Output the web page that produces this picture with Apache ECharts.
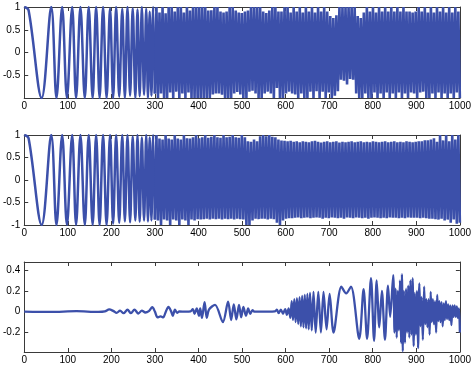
<!DOCTYPE html>
<html><head><meta charset="utf-8">
<script src="https://cdn.jsdelivr.net/npm/echarts@6/dist/echarts.min.js"></script>
<style>html,body{margin:0;padding:0;background:#fff;}#c{width:474px;height:366px;}</style>
</head><body><div id="c"></div>
<script>
// ---- data ----
// low-frequency part (extrema positions) shared by panels 1 and 2
const lowX = [0, 10, 40, 62, 74, 87, 98, 110, 119, 129, 139, 148, 157, 165, 173, 181, 189, 197, 204, 211, 218, 225, 231, 237, 243, 249, 255, 260, 265, 270, 275, 280, 284, 288, 292, 296, 300];
const lowY1 = [1, 0.93, -1, 1, -1, 1, -1, 1, -1, 1, -1, 1, -1, 1, -1, 1, -1, 0.97, -1, 1, -0.97, 0.96, -1, 1, -0.95, 0.97, -1, 0.95, -0.96, 1, -0.93, 0.96, -1, 0.9, -0.95, 1, -0.9];
const lowY2 = [1, 0.93, -1, 1, -1, 1, -1, 1, -1, 1, -1, 1, -1, 1, -1, 1, -1, 1, -0.97, 1, -0.95, 1, -0.92, 1, -0.94, 0.97, -0.9, 1, -0.93, 0.95, -0.9, 1, -0.92, 0.95, -0.9, 1, -0.88];
// dense part: one extremum every 3.5 samples from 303.5 to 1000
const denseStart = 303.5;
const denseStep = 3.5;
const denseY1 = [
 1, -1, 0.88, -0.9, 1, -1, 0.86, -1, 1, -0.88,
 1, -1, 0.9, -0.86, 1, -1, 1, -0.9, 0.88, -1,
 1, -0.88, 0.92, -1, 1, -1, 1, -1, 1, -1,
 1, -1, 1, -1, 0.92, -1, 0.93, -0.92, 1, -0.9,
 1, -0.9, 0.9, -0.93, 0.88, -1, 0.9, -1, 1, -1,
 1, -0.9, 0.92, -0.87, 0.88, -0.92, 0.87, -1, 0.9, -1,
 0.92, -0.86, 1, -0.84, 1, -0.9, 1, -1, 1, -1,
 0.9, -0.9, 0.87, -0.86, 0.92, -0.9, 1, -1, 1, -0.78,
 0.9, -1, 0.9, -1, 1, -0.9, 1, -0.86, 0.88, -0.9,
 1, -0.92, 0.9, -1, 1, -0.9, 0.88, -1, 1, -1,
 0.9, -0.86, 1, -1, 0.88, -0.85, 1, -1, 0.9, -0.86,
 1, -1, 0.9, -0.88, 0.8, -1, 0.76, -0.95, 0.82, -0.85,
 1, -0.6, 1, -0.62, 1, -0.7, 1, -0.58, 1, -0.6,
 1, -0.9, 0.8, -1, 0.76, -1, 0.88, -0.9, 1, -1,
 0.9, -1, 1, -0.88, 0.88, -1, 1, -0.9, 0.9, -1,
 1, -0.88, 0.9, -1, 1, -0.9, 0.9, -1, 1, -0.88,
 0.9, -1, 1, -0.9, 0.9, -1, 0.9, -0.88, 0.88, -0.9,
 0.9, -1, 1, -0.88, 0.9, -0.86, 1, -1, 0.88, -1,
 1, -0.9, 0.88, -1, 1, -0.88, 0.9, -1, 1, -0.9,
 0.88, -1, 1, -0.9, 0.88, -1, 1, -0.88, 0.9, -1
];
const denseY2 = [
 1, -0.9, 0.92, -1, 0.9, -0.88, 1, -0.9, 0.92, -1,
 0.9, -0.88, 1, -0.9, 0.92, -1, 0.9, -0.88, 1, -0.9,
 0.93, -1, 0.92, -0.88, 0.95, -0.9, 1, -0.87, 0.93, -0.88,
 0.95, -0.87, 1, -0.86, 0.94, -0.88, 0.96, -0.86, 1, -0.87,
 0.95, -0.86, 0.94, -0.88, 1, -0.86, 0.95, -0.87, 0.96, -0.86,
 1, -0.88, 0.95, -0.86, 0.94, -0.87, 1, -0.88, 0.95, -1,
 0.86, -1, 0.85, -0.9, 0.9, -0.86, 0.86, -0.87, 0.97, -0.86,
 1, -0.86, 0.97, -0.88, 1, -0.86, 0.96, -0.87, 0.95, -0.95,
 0.9, -1, 0.88, -0.9, 0.87, -0.86, 0.86, -0.85, 0.87, -0.85,
 0.85, -0.84, 0.86, -0.83, 0.84, -0.85, 0.86, -0.84, 0.85, -0.83,
 0.84, -0.85, 0.86, -0.84, 0.87, -0.83, 0.85, -0.84, 0.83, -0.86,
 0.85, -0.84, 0.86, -0.85, 0.84, -0.83, 0.85, -0.84, 0.86, -0.85,
 0.83, -0.84, 0.85, -0.86, 0.84, -0.83, 0.85, -0.84, 0.86, -0.85,
 0.84, -0.83, 0.85, -0.84, 0.86, -0.85, 0.84, -0.84, 0.85, -0.86,
 0.84, -0.84, 0.86, -0.83, 0.85, -0.84, 0.84, -0.85, 0.85, -0.84,
 0.86, -0.85, 0.84, -0.83, 0.85, -0.84, 0.86, -0.84, 0.84, -0.85,
 0.85, -0.84, 0.84, -0.85, 0.86, -0.83, 0.85, -0.84, 0.84, -0.84,
 0.85, -0.84, 0.86, -0.85, 0.86, -0.84, 0.88, -0.85, 0.88, -0.86,
 0.9, -0.86, 0.93, -0.87, 0.85, -0.88, 1, -0.86, 0.88, -0.9,
 1, -0.88, 0.86, -0.95, 1, -0.88, 0.9, -0.97, 1, -0.95
];
// bottom panel (difference signal), extrema
const errX = [
 0, 60, 120, 170, 185, 195, 205, 212, 220, 228, 237, 245, 253, 262, 270, 278, 286,
 294, 300, 306, 313, 319, 325, 331, 337, 341, 346, 351, 356, 370, 382,
 387, 391, 396, 401, 404, 408, 414, 419, 424, 438, 456, 468, 475, 481, 487, 493, 498, 503, 509, 514, 519, 524, 528, 560, 575,
 580, 584, 589, 594, 599, 603, 607, 611, 614, 617, 620, 623, 626, 629, 632, 635, 638, 641, 644, 647, 650, 653, 656, 660, 664,
 669, 675, 681, 687, 694, 701, 710, 728, 739, 750, 769, 779, 787, 796, 803, 809, 815, 821, 828, 835, 840, 847,
 850, 852.5, 855, 857.5, 860, 862.5, 865, 867, 869, 871.5, 874, 876.5, 879, 881.5, 884, 886.5, 889, 891.5, 894, 896.5, 899, 901.5, 904,
 907, 909.5, 912, 915, 918, 920.5, 923, 925.5, 928, 930.5, 933, 935.5, 938, 940.5, 943, 945.5, 948, 950.5, 953, 955.5, 958, 960.5, 963, 965.5, 968, 970.5, 973, 975.5, 978, 980.5, 983, 985.5, 988, 990.5, 993, 995.5, 998, 1000
];
const errY = [
 0, -0.003, 0.004, -0.003, 0.002, 0.022, 0.005, -0.012, 0.01, -0.015, 0.018, -0.015, 0.02, -0.018, 0.01, -0.008, 0.005,
 0.042, 0, -0.055, -0.045, -0.055, 0, 0.045, 0.005, -0.04, 0.018, -0.012, 0.002, 0, 0.003,
 0.025, -0.02, 0.03, -0.04, 0.03, -0.06, 0.09, -0.06, 0.02, 0.065, -0.1, 0.095, -0.08, 0.07, -0.075, 0.065, -0.055, 0.045, -0.04, 0.03, -0.02, 0.015, 0, 0, 0.002,
 0.018, -0.015, 0.02, -0.02, 0.025, -0.03, 0.03, -0.06, 0.1, -0.08, 0.12, -0.1, 0.13, -0.12, 0.14, -0.14, 0.15, -0.15, 0.16, -0.16, 0.17, -0.17, 0.18, -0.18, 0.19,
 -0.2, 0.19, -0.2, 0.19, -0.17, 0.17, -0.2, 0.24, 0.175, 0.24, -0.26, 0.215, -0.26, 0.32, -0.28, 0.3, -0.15, 0.2, -0.27, 0.25, -0.05, 0.35,
 -0.2, 0.22, -0.25, 0.2, -0.18, 0.3, -0.3, 0.36, -0.38, 0.2, -0.3, 0.22, -0.2, 0.25, -0.25, 0.3, -0.22, 0.32, -0.33, 0.18, -0.22, 0.2, -0.35,
 0.27, -0.14, 0.14, -0.27, 0.24, -0.12, 0.12, -0.15, 0.12, -0.22, 0.19, -0.1, 0.12, -0.12, 0.1, -0.2, 0.16, -0.09, 0.1, -0.1, 0.09, -0.14, 0.08, -0.08, 0.1, -0.07, 0.07, -0.08, 0.06, -0.13, 0.06, -0.05, 0.06, -0.05, 0.05, -0.06, 0.03, -0.2
];
const yTicks3 = [-0.2, 0, 0.2, 0.4];

// ---- build ----
function lowPart(lowY) {
  return lowX.map((x, i) => [x, lowY[i]]);
}
function densePart(lowY, denseY) {
  const d = [[lowX[lowX.length - 1], lowY[lowY.length - 1]]];
  denseY.forEach((y, i) => d.push([denseStart + denseStep * i, y]));
  return d;
}

const LINE = '#3c50aa';
const AX = '#3a3a3a';
const FONT = { fontFamily: 'Liberation Sans, Arial, sans-serif', fontSize: 10, color: '#000' };
const grids = [
  { left: 23, top: 7, width: 439, height: 91 },
  { left: 23, top: 135, width: 439, height: 90 },
  { left: 23, top: 262, width: 439, height: 90 }
];
const yRange = [[-1, 1], [-1, 1], [-0.387, 0.476]];
const xAxes = [], yAxes = [];
grids.forEach((g, gi) => {
  ['bottom', 'top'].forEach((pos, k) => {
    xAxes.push({
      type: 'value', gridIndex: gi, position: pos, min: 0, max: 1000, interval: 100,
      axisLine: { show: true, onZero: false, lineStyle: { color: AX, width: 1 } },
      axisTick: { show: true, inside: true, length: 4, lineStyle: { color: AX } },
      axisLabel: Object.assign({ show: k === 0, margin: 3, formatter: v => String(v) }, FONT),
      splitLine: { show: false }
    });
  });
  ['left', 'right'].forEach((pos, k) => {
    const ax = {
      type: 'value', gridIndex: gi, position: pos, min: yRange[gi][0], max: yRange[gi][1],
      axisLine: { show: true, onZero: false, lineStyle: { color: AX, width: 1 } },
      axisTick: { show: true, inside: true, length: 4, lineStyle: { color: AX } },
      axisLabel: Object.assign({ show: k === 0, margin: 4, formatter: v => String(v) }, FONT),
      splitLine: { show: false }
    };
    if (gi < 2) {
      ax.interval = 0.5;
      if (gi === 0) ax.axisLabel.showMinLabel = false;
    } else {
      ax.axisTick.customValues = yTicks3;
      ax.axisLabel.customValues = yTicks3;
    }
    yAxes.push(ax);
  });
});

function lineSeries(gi, data, smooth, width) {
  return {
    type: 'line', xAxisIndex: gi * 2, yAxisIndex: gi * 2, data: data,
    symbol: 'none', showSymbol: false, smooth: smooth, silent: true,
    lineStyle: { color: LINE, width: width }
  };
}
const ser = [
  lineSeries(0, lowPart(lowY1), 0.35, 2.5),
  lineSeries(0, densePart(lowY1, denseY1), false, 2.6),
  lineSeries(1, lowPart(lowY2), 0.35, 2.5),
  lineSeries(1, densePart(lowY2, denseY2), false, 2.6),
  lineSeries(2, errX.map((x, i) => [x, errY[i]]), 0.3, 2.3)
];

const chart = echarts.init(document.getElementById('c'), null, { renderer: 'canvas' });
chart.setOption({
  animation: false,
  backgroundColor: '#fff',
  grid: grids,
  xAxis: xAxes,
  yAxis: yAxes,
  series: ser
});
</script></body></html>
